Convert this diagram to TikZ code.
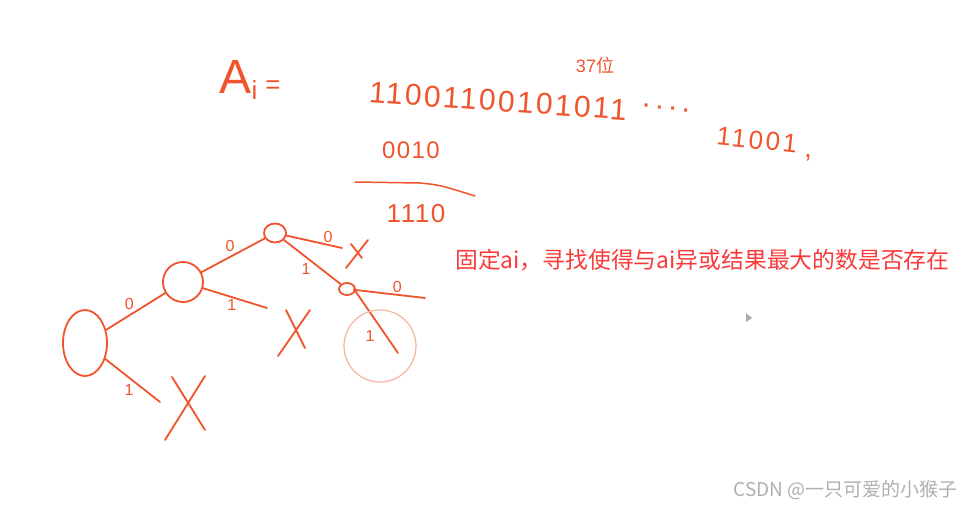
\documentclass[tikz,border=0pt]{standalone}
\usepackage{fontspec}
\setmainfont{Liberation Sans}
\newfontfamily\cjk{Noto Sans CJK SC}
\usetikzlibrary{shapes.geometric}
\definecolor{pen}{RGB}{240,84,44}
\definecolor{note}{RGB}{250,58,58}
\definecolor{mark}{RGB}{150,150,150}
\tikzset{
  pen/.style={draw=pen, line width=1.8pt, line cap=round},
  knot/.style={pen, ellipse, inner sep=0pt},
  bit/.style={text=pen, font=\fontsize{16}{16}\selectfont, inner sep=1pt},
  hand/.style={text=pen, inner sep=0pt},
}
\begin{document}
\begin{tikzpicture}[x=1pt,y=-1pt]
    \useasboundingbox[fill=white] (0,0) rectangle (975,509);
    %% the number a_i
    \node[hand, font=\fontsize{48}{48}\selectfont] (ai) at (250,80) {A\raisebox{-6pt}{\fontsize{26}{26}\selectfont i}\,\fontsize{26}{26}\selectfont=};
    \node[hand, font=\fontsize{30}{30}\selectfont\addfontfeature{LetterSpace=8}, rotate=-4] (bits) at (498,101) {11001100101011};
    \node[hand, font=\fontsize{30}{30}\selectfont, rotate=-8] (dots) at (666,108) {.\,.\,.\,.};
    \node[hand, font=\fontsize{26}{26}\selectfont\addfontfeature{LetterSpace=10}, rotate=-6] (tail) at (757,140) {11001};
    \node[hand, font=\fontsize{28}{28}\selectfont] (comma) at (808,158) {,};
    \node[hand, font=\fontsize{18}{18}\selectfont] (len) at (595,66) {37{\cjk 位}};
    %% xor with it
    \node[hand, font=\fontsize{24}{24}\selectfont\addfontfeature{LetterSpace=6}] (mask) at (411,150) {0010};
    \draw[pen, line width=1.5pt] (355,182) -- (420,183) .. controls (440,185) .. (475,196);
    \node[hand, font=\fontsize{26}{26}\selectfont\addfontfeature{LetterSpace=6}] (res) at (416,214) {1110};
    %% trie
    \node[knot, minimum width=44pt, minimum height=66pt] (r) at (85,343) {};
    \node[knot, minimum width=40pt, minimum height=40pt] (n1) at (183,282) {};
    \node[knot, minimum width=22pt, minimum height=19pt] (n2) at (275,233) {};
    \node[knot, minimum width=16pt, minimum height=12pt] (n3) at (347,289) {};
    \coordinate (r1) at (160,402);
    \coordinate (n11) at (267,308);
    \coordinate (n20) at (342,248);
    \coordinate (n30) at (425,298);
    \coordinate (n31) at (398,353);
    \draw[pen] (r) -- (n1) node[bit, pos=0.5, above left] {0};
    \draw[pen] (r) -- (r1) node[bit, pos=0.55, below left] {1};
    \draw[pen] (n1) -- (n2) node[bit, pos=0.55, above left] {0};
    \draw[pen] (n1) -- (n11) node[bit, pos=0.45, below] {1};
    \draw[pen] (n2) -- (n20) node[bit, pos=0.75, above] {0};
    \draw[pen] (n2) -- (n3) node[bit, pos=0.5, below left] {1};
    \draw[pen] (n3) -- (n30) node[bit, pos=0.6, above] {0};
    \draw[pen] (n3.east) ++(-2,0) -- (n31);
    %% dead ends
    \draw[pen] (165,440) -- (205,376) (172,377) -- (205,430);
    \draw[pen] (278,356) -- (310,310) (286,310) -- (305,348);
    \draw[pen] (346,268) -- (368,240) (351,244) -- (362,258);
    %% the best path
    \draw[draw=pen!45, line width=1.2pt] (380,346) circle (36);
    \node[bit] (one) at (370,336) {1};
    %% note
    \node[text=note, font=\cjk\fontsize{22.8}{23}\selectfont, anchor=west, inner sep=0pt] (goal) at (455,260) {固定ai，寻找使得与ai异或结果最大的数是否存在};
    \fill[mark!80] (746,313) -- (746,322) -- (752,318) -- cycle;
    \node[text=mark!75, font=\cjk\fontsize{19}{19}\selectfont, anchor=east, inner sep=0pt] (tag) at (958,490) {CSDN @一只可爱的小猴子};
\end{tikzpicture}
\end{document}
